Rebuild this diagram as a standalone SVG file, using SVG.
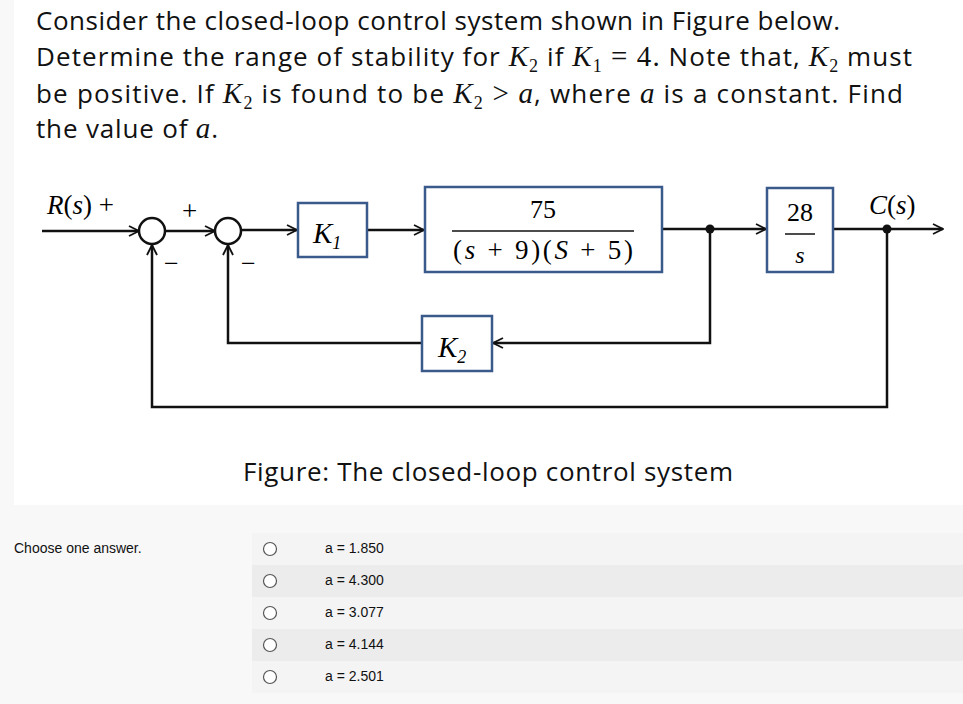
<svg xmlns="http://www.w3.org/2000/svg" width="963" height="704" viewBox="0 0 963 704">
<defs>
<style>
.t{font-family:"Open Sans","Liberation Sans",sans-serif;font-size:26px;fill:#111}
.m{font-family:"Liberation Serif",serif;font-style:italic}
.mr{font-family:"Liberation Serif",serif}
.sub{font-size:18px}
.ln{stroke:#111;stroke-width:2.5;fill:none}
.bx{fill:#fff;stroke:#3a5a8c;stroke-width:2.5}
.a{font-family:"Liberation Sans",sans-serif;font-size:14px;fill:#111}
.rad{fill:#fff;stroke:#555;stroke-width:1.2}
</style>
<marker id="ar" viewBox="0 0 12 12" refX="11" refY="6" markerWidth="12" markerHeight="12" markerUnits="userSpaceOnUse" orient="auto"><path d="M1,1 L11,6 L1,11" fill="none" stroke="#111" stroke-width="1.8"/></marker>
</defs>
<rect width="963" height="704" fill="#f8f8f8"/>
<rect x="14" y="0" width="949" height="505" fill="#fff"/>
<g id="question">
<text class="t" x="36" y="30" textLength="804">Consider the closed-loop control system shown in Figure below.</text>
<text class="t" x="36" y="66" textLength="876">Determine the range of stability for <tspan class="m" font-size="29">K</tspan><tspan class="mr sub" dy="6">2</tspan><tspan dy="-6"> if </tspan><tspan class="m" font-size="29">K</tspan><tspan class="mr sub" dy="6">1</tspan><tspan class="mr" font-size="29" dy="-6"> = 4.</tspan> Note that, <tspan class="m" font-size="29">K</tspan><tspan class="mr sub" dy="6">2</tspan><tspan dy="-6"> must</tspan></text>
<text class="t" x="36" y="103" textLength="867">be positive. If <tspan class="m" font-size="29">K</tspan><tspan class="mr sub" dy="6">2</tspan><tspan dy="-6"> is found to be </tspan><tspan class="m" font-size="29">K</tspan><tspan class="mr sub" dy="6">2</tspan><tspan class="mr" font-size="29" dy="-6"> &gt; </tspan><tspan class="m" font-size="29">a</tspan>, where <tspan class="m" font-size="29">a</tspan> is a constant. Find</text>
<text class="t" x="36" y="138" textLength="182">the value of <tspan class="m" font-size="29">a</tspan>.</text>
</g>
<g id="connectors">
<line class="ln" x1="42" y1="231" x2="139" y2="231" marker-end="url(#ar)"/>
<line class="ln" x1="165" y1="231" x2="215" y2="231" marker-end="url(#ar)"/>
<line class="ln" x1="241" y1="230" x2="297" y2="230" marker-end="url(#ar)"/>
<line class="ln" x1="367" y1="230" x2="424" y2="230" marker-end="url(#ar)"/>
<line class="ln" x1="662" y1="229" x2="766" y2="229" marker-end="url(#ar)"/>
<line class="ln" x1="833" y1="229" x2="943" y2="229" marker-end="url(#ar)"/>
<polyline class="ln" points="710,229 710,343 493,343" marker-end="url(#ar)"/>
<polyline class="ln" points="422,343 228,343 228,245" marker-end="url(#ar)"/>
<polyline class="ln" points="887,229 887,407 152,407 152,245" marker-end="url(#ar)"/>
<circle cx="710" cy="229" r="4.5" fill="#111"/>
<circle cx="887" cy="229" r="4.5" fill="#111"/>
</g>
<g id="sum1"><circle class="ln" cx="152" cy="231" r="13" fill="#fff"/>
<text class="mr" x="47" y="214" font-size="27"><tspan class="m">R</tspan>(<tspan class="m">s</tspan>) +</text>
<text class="mr" x="164" y="272" font-size="26">−</text></g>
<g id="sum2"><circle class="ln" cx="228" cy="231" r="13" fill="#fff"/>
<text class="mr" x="182" y="220" font-size="27">+</text>
<text class="mr" x="241" y="272" font-size="26">−</text></g>
<g id="k1"><rect class="bx" x="298" y="203" width="69" height="54"/>
<text class="m" x="313" y="243" font-size="29">K<tspan class="mr sub" dy="6">1</tspan></text></g>
<g id="plant"><rect class="bx" x="425" y="187" width="237" height="85"/>
<text class="mr" x="543" y="218" font-size="26" text-anchor="middle">75</text>
<line x1="452" y1="231" x2="634" y2="231" stroke="#111" stroke-width="1.5"/>
<text class="mr" x="543" y="259" font-size="27" text-anchor="middle" textLength="180">(<tspan class="m">s</tspan> + 9)(<tspan class="m">S</tspan> + 5)</text></g>
<g id="integ"><rect class="bx" x="767" y="188" width="66" height="84"/>
<text class="mr" x="800" y="221" font-size="26" text-anchor="middle">28</text>
<line x1="785" y1="234" x2="815" y2="234" stroke="#111" stroke-width="1.5"/>
<text class="m" x="800" y="263" font-size="24" text-anchor="middle">s</text></g>
<g id="out"><text class="mr" x="869" y="214" font-size="27"><tspan class="m">C</tspan>(<tspan class="m">s</tspan>)</text></g>
<g id="k2"><rect class="bx" x="422" y="316" width="70" height="55"/>
<text class="m" x="438" y="357" font-size="29">K<tspan class="mr sub" dy="6">2</tspan></text></g>
<text class="t" x="243" y="481" textLength="490">Figure: The closed-loop control system</text>
<g id="answers">
<text class="a" x="14" y="553">Choose one answer.</text>
<rect x="252" y="533" width="711" height="32" fill="#f4f4f4"/>
<rect x="252" y="565" width="711" height="32" fill="#ececec"/>
<rect x="252" y="597" width="711" height="32" fill="#f4f4f4"/>
<rect x="252" y="629" width="711" height="32" fill="#ececec"/>
<rect x="252" y="661" width="711" height="32" fill="#f4f4f4"/>
<circle class="rad" cx="270" cy="549" r="6.5"/><text class="a" x="325" y="553">a = 1.850</text>
<circle class="rad" cx="270" cy="581" r="6.5"/><text class="a" x="325" y="585">a = 4.300</text>
<circle class="rad" cx="270" cy="613" r="6.5"/><text class="a" x="325" y="617">a = 3.077</text>
<circle class="rad" cx="270" cy="645" r="6.5"/><text class="a" x="325" y="649">a = 4.144</text>
<circle class="rad" cx="270" cy="677" r="6.5"/><text class="a" x="325" y="681">a = 2.501</text>
</g>
</svg>
